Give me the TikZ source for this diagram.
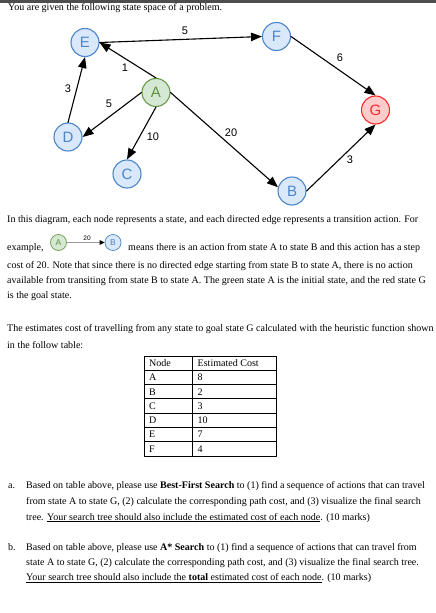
\documentclass[tikz,border=0pt]{standalone}
\usepackage{fontspec}
\setmainfont{Liberation Serif}
\newfontfamily\arialf{Liberation Sans}
\usetikzlibrary{arrows.meta}
\definecolor{bdraw}{RGB}{74,134,200}
\definecolor{bfill}{RGB}{218,232,252}
\definecolor{gdraw}{RGB}{106,154,76}
\definecolor{gfill}{RGB}{213,232,212}
\definecolor{gtext}{RGB}{96,145,60}
\definecolor{rdraw}{RGB}{255,40,40}
\definecolor{rfill}{RGB}{255,204,204}
\definecolor{topbar}{RGB}{78,78,78}
\tikzset{
  sv/.style={circle,draw,line width=1.1pt,inner sep=0pt,minimum size=28pt,
             font=\arialf\fontsize{15}{15}\selectfont},
  bl/.style={sv,draw=bdraw,fill=bfill,text=bdraw},
  gr/.style={sv,draw=gdraw,fill=gfill,text=gtext},
  rd/.style={sv,draw=rdraw,fill=rfill,text=rdraw},
  small/.style={line width=0.7pt,minimum size=16pt,font=\arialf\fontsize{8.5}{8.5}\selectfont},
  ed/.style={-{Triangle[length=11pt,width=8.5pt]},line width=1.1pt},
  el/.style={font=\arialf\fontsize{11}{11}\selectfont,inner sep=0pt},
  tx/.style={anchor=base west,inner sep=0pt,font=\fontsize{10.03}{12}\selectfont},
  every picture/.style={line cap=round,line join=round}}

\begin{document}
\begin{tikzpicture}[x=1pt,y=-1pt]
  \useasboundingbox (0,0) rectangle (436,613);
  \fill[topbar] (0,0) rectangle (436,3);
  \node[tx] (t0) at (8,10.5){You are given the following state space of a problem.};
  % state space
  \node[bl] (e) at (85,42.5){E};\node[bl] (f) at (276.5,36.5){F};
  \node[gr] (a) at (156,92.5){A};\node[rd] (g) at (375.5,110){G};
  \node[bl] (d) at (68,137){D};\node[bl] (c) at (127,174){C};
  \node[bl] (b) at (292,191){B};
  \draw[ed] (a.north)--(e.east); \draw[ed] (e.east)--(f.west); \draw[ed] (f.east)--(g.north);
  \draw[ed] (a.west)--(d.east); \draw[ed] (d.north)--(e.south); \draw[ed] (a.south)--(c.north);
  \draw[ed] (a.east)--(b.165); \draw[ed] (b.east)--(g.south);
  \node[el] at (185,31){5};\node[el] at (340,58){6};
  \node[el] at (125,67.5){1};\node[el] at (68,89){3};
  \node[el] at (109,104){5};\node[el] at (153,136.5){10};
  \node[el] at (231,133){20};\node[el] at (350,160){3};
  % paragraph
  \node[tx] at (7,222.5){In this diagram, each node represents a state, and each directed edge represents a transition action. For};
  \node[tx] at (7,250){example,};
  \node[gr,small] (ia) at (58.5,242.5){A};\node[bl,small] (ib) at (113,242.5){B};
  \draw[draw=black!40,line width=1.2pt,-{Triangle[length=5pt,width=4.5pt,color=black]}] (ia)--(ib);
  \node[el,font=\arialf\fontsize{6.5}{6.5}\selectfont] at (87,238){20};
  \node[tx] at (128,250){means there is an action from state A to state B and this action has a step};
  \node[tx] at (7,268.5){cost of 20. Note that since there is no directed edge starting from state B to state A, there is no action};
  \node[tx] at (7,283.5){available from transiting from state B to state A. The green state A is the initial state, and the red state G};
  \node[tx] at (7,298.5){is the goal state.};
  \node[tx] at (7,331){The estimates cost of travelling from any state to goal state G calculated with the heuristic function shown};
  \node[tx] at (7,348){in the follow table:};
  % table
  \draw[line width=0.8pt,line cap=butt] (144,356) rectangle (276,456) (192,356)--(192,456);
  \foreach \i in {1,...,6}
    \draw[line width=0.8pt,line cap=butt] (144,356+14.286*\i)--(276,356+14.286*\i);
  \node[tx] at (149,366.5){Node};\node[tx] at (197.5,366.5){Estimated Cost};
  \foreach \n/\v [count=\i] in {A/8,B/2,C/3,D/10,E/7,F/4}{
    \node[tx] at (149,366.5+14.286*\i){\n};
    \node[tx] at (197.5,366.5+14.286*\i){\v};}
  % questions
  \node[tx] at (8,488.5){a.};
  \node[tx] at (26,488.5){Based on table above, please use \textbf{Best-First Search} to (1) find a sequence of actions that can travel};
  \node[tx] at (26,504){from state A to state G, (2) calculate the corresponding path cost, and (3) visualize the final search};
  \node[tx] at (26,520){tree. \underline{Your search tree should also include the estimated cost of each node}. (10 marks)};
  \node[tx] at (8,550.5){b.};
  \node[tx] at (26,550.5){Based on table above, please use \textbf{A* Search} to (1) find a sequence of actions that can travel from};
  \node[tx] at (26,565.5){state A to state G, (2) calculate the corresponding path cost, and (3) visualize the final search tree.};
  \node[tx] at (26,580.5){\underline{Your search tree should also include the \textbf{total} estimated cost of each node}. (10 marks)};
\end{tikzpicture}
\end{document}
